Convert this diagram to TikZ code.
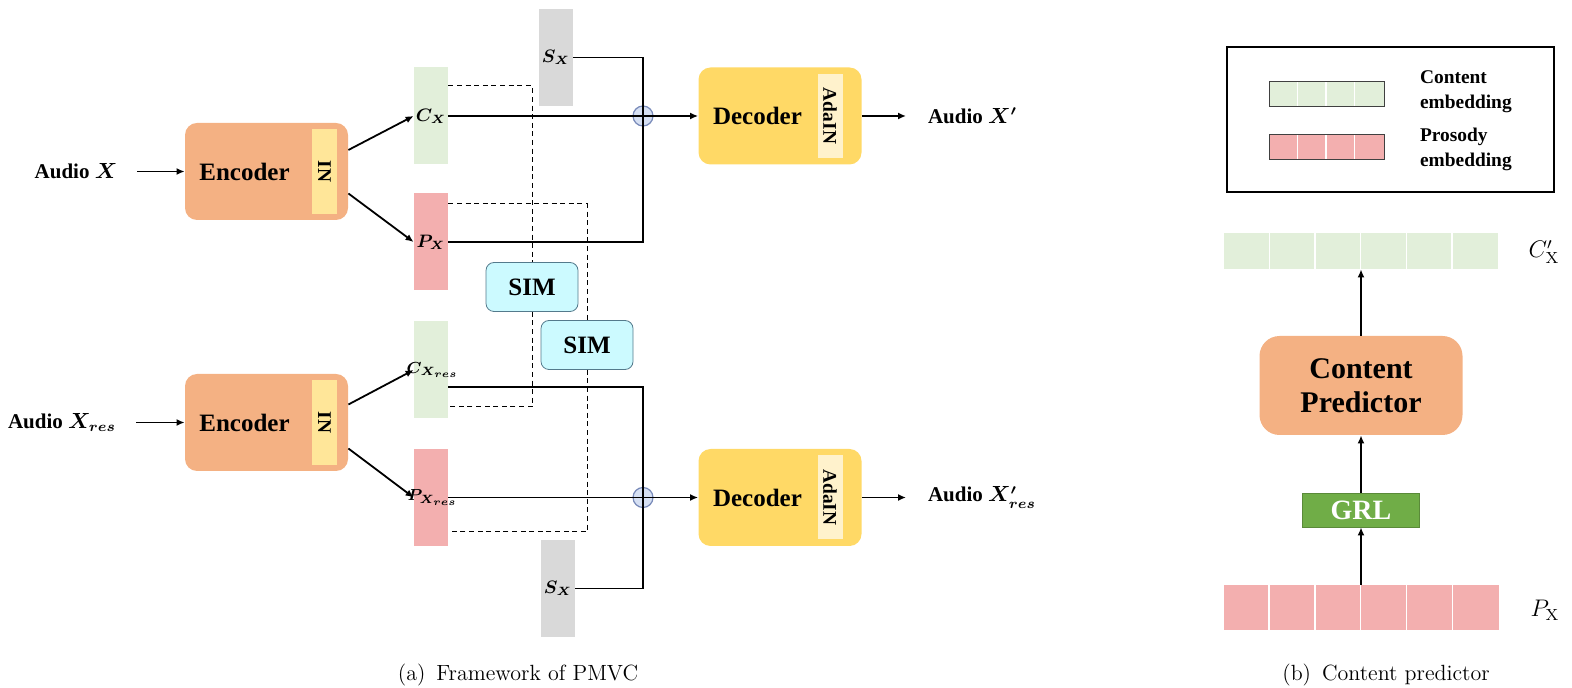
\documentclass[tikz,border=0pt]{standalone}
\usepackage{amsmath}
\usepackage{fontspec}
\usepackage{tikz}
\usetikzlibrary{arrows.meta, positioning}
\newfontfamily\tnr{Liberation Serif}
\definecolor{enccolor}{RGB}{244,177,131}
\definecolor{incolor}{RGB}{255,230,153}
\definecolor{deccolor}{RGB}{255,217,102}
\definecolor{adacolor}{RGB}{255,242,204}
\definecolor{contentcolor}{RGB}{226,239,218}
\definecolor{prosodycolor}{RGB}{243,175,175}
\definecolor{speakercolor}{RGB}{217,217,217}
\definecolor{simcolor}{RGB}{204,250,255}
\definecolor{simborder}{RGB}{84,122,140}
\definecolor{addcolor}{RGB}{214,224,243}
\definecolor{addborder}{RGB}{120,138,185}
\definecolor{grlcolor}{RGB}{112,173,71}

\begin{document}
\begin{tikzpicture}[x=0.5pt, y=-0.5pt, font=\tnr\bfseries]
    \useasboundingbox (0,0) rectangle (1572,688);
    % Define the styles for the blocks and the lines
    \tikzstyle{coder} = [rounded corners=6pt, minimum width=81.5pt, minimum height=48.5pt, inner sep=0pt]
    \tikzstyle{strip} = [minimum width=12.5pt, minimum height=42.5pt, inner sep=0pt, font=\tnr\bfseries\fontsize{9.7}{10}\selectfont]
    \tikzstyle{bigtxt} = [font=\tnr\bfseries\fontsize{12.5}{14}\selectfont]
    \tikzstyle{audio} = [font=\tnr\bfseries\fontsize{10.5}{12}\selectfont]
    \tikzstyle{emb} = [minimum width=17pt, minimum height=48.5pt, inner sep=0pt, font=\fontsize{9}{10}\selectfont]
    \tikzstyle{sim} = [draw=simborder, fill=simcolor, rounded corners=4pt, minimum width=46pt, minimum height=24.5pt, font=\tnr\bfseries\fontsize{12.5}{14}\selectfont]
    \tikzstyle{addop} = [circle, draw=addborder, fill=addcolor, line width=0.6pt, minimum size=10pt, inner sep=0pt]
    \tikzstyle{flow} = [-{Latex[length=4pt,width=3.5pt]}, line width=0.9pt]
    \tikzstyle{link} = [line width=0.9pt]
    \tikzstyle{simlink} = [line width=0.5pt, dash pattern=on 2.5pt off 1.8pt]
    \tikzstyle{caption} = [font=\rmfamily\mdseries\fontsize{11}{13}\selectfont]

    % Inputs and encoders
    \node[audio] (ax) at (76,171.5) {Audio $\boldsymbol{X}$};
    \node[audio] (axr) at (62,422.5) {Audio $\boldsymbol{X_{res}}$};
    \node[coder, fill=enccolor] (enc1) at (266.5,171.5) {};
    \node[coder, fill=enccolor] (enc2) at (266.5,422.5) {};
    \node[strip, fill=incolor, left=5.5pt of enc1.east] (in1) {\rotatebox{-90}{IN}};
    \node[strip, fill=incolor, left=5.5pt of enc2.east] (in2) {\rotatebox{-90}{IN}};
    \node[bigtxt] (enc1txt) at ([xshift=-11pt]enc1.center) {Encoder};
    \node[bigtxt] (enc2txt) at ([xshift=-11pt]enc2.center) {Encoder};
    \draw[flow, shorten <=6.5pt] (ax.east) -- (enc1.west);
    \draw[flow, shorten <=6.5pt] (axr.east) -- (enc2.west);

    % Content, prosody and speaker embeddings
    \node[emb, fill=contentcolor] (cx) at (431,116) {\makebox[0pt]{$\boldsymbol{C_X}$}};
    \node[emb, fill=prosodycolor] (px) at (431,242) {\makebox[0pt]{$\boldsymbol{P_X}$}};
    \node[emb, fill=contentcolor, font=\fontsize{8}{9}\selectfont] (cxr) at (431,370) {\makebox[0pt]{\hspace{1.5pt}$\boldsymbol{C_{X_{res}}}$}};
    \node[emb, fill=prosodycolor, font=\fontsize{8}{9}\selectfont] (pxr) at (431,497.5) {\makebox[0pt]{\hspace{1.5pt}$\boldsymbol{P_{X_{res}}}$}};
    \node[emb, fill=speakercolor] (sx) at (556,57.5) {\makebox[0pt]{$\boldsymbol{S_X}$}};
    \node[emb, fill=speakercolor] (sxr) at (558,588.5) {\makebox[0pt]{$\boldsymbol{S_X}$}};
    \draw[flow] ([yshift=10.75pt]enc1.east) -- (cx.west);
    \draw[flow] ([yshift=-11pt]enc1.east) -- (px.west);
    \draw[flow] ([yshift=9pt]enc2.east) -- (cxr.west);
    \draw[flow] ([yshift=-13pt]enc2.east) -- (pxr.west);

    % Similarity modules
    \node[sim] (sim1) at (532,287) {SIM};
    \node[sim] (sim2) at (587,345) {SIM};
    \draw[simlink] ([yshift=15pt]cx.east) -| (sim1.north);
    \draw[simlink] (sim1.south) |- ([yshift=-18.5pt]cxr.east);
    \draw[simlink] ([yshift=19pt]px.east) -| (sim2.north);
    \draw[simlink] (sim2.south) |- ([yshift=-17.25pt]pxr.east);

    % Decoders
    \node[coder, fill=deccolor] (dec1) at (780,116) {};
    \node[coder, fill=deccolor] (dec2) at (780,497.5) {};
    \node[strip, fill=adacolor, minimum height=42pt, left=9.5pt of dec1.east] (ada1) {\rotatebox{-90}{AdaIN}};
    \node[strip, fill=adacolor, minimum height=42pt, left=9.5pt of dec2.east] (ada2) {\rotatebox{-90}{AdaIN}};
    \node[bigtxt] (dec1txt) at ([xshift=-11.25pt]dec1.center) {Decoder};
    \node[bigtxt] (dec2txt) at ([xshift=-11.25pt]dec2.center) {Decoder};

    % Fusion of the embeddings
    \node[addop] (add1) at (643,116) {};
    \node[addop] (add2) at (643,497.5) {};
    \draw[flow] (cx.east) -- (dec1.west);
    \draw[link] (sx.east) -| (add1.center) |- (px.east);
    \draw[flow] (pxr.east) -- (dec2.west);
    \draw[link] (sxr.east) -| (add2.center) |- ([yshift=-8.5pt]cxr.east);

    % Outputs
    \node[audio, anchor=west] (out1) at (921,116) {Audio $\boldsymbol{X'}$};
    \node[audio, anchor=west] (out2) at (921,497.5) {Audio $\boldsymbol{X'_{res}}$};
    \draw[flow, shorten >=7.5pt] (dec1.east) -- (out1.west);
    \draw[flow, shorten >=7.5pt] (dec2.east) -- (out2.west);
    \node[caption] (capa) at (518,675) {(a)\enspace Framework of PMVC};

    % Legend of the embeddings
    \draw[line width=0.6pt] (1227,47) rectangle (1554,192);
    \node[draw=black!75, line width=0.5pt, fill=contentcolor, minimum width=57.5pt, minimum height=12.5pt, inner sep=0pt] (cleg) at (1326.5,94.5) {};
    \node[draw=black!75, line width=0.5pt, fill=prosodycolor, minimum width=57.5pt, minimum height=12.5pt, inner sep=0pt] (pleg) at (1326.5,147) {};
    \foreach \i in {1,2,3} {
        \draw[white, line width=0.7pt] ([xshift=\i*14.375pt, yshift=-0.5pt]cleg.north west) -- ([xshift=\i*14.375pt, yshift=0.5pt]cleg.south west);
        \draw[white, line width=0.7pt] ([xshift=\i*14.375pt, yshift=-0.5pt]pleg.north west) -- ([xshift=\i*14.375pt, yshift=0.5pt]pleg.south west);
    }
    \node[anchor=west, align=left, font=\tnr\bfseries\fontsize{9.7}{12.5}\selectfont] (ctxt) at (1413,91.5) {Content\\embedding};
    \node[anchor=west, align=left, font=\tnr\bfseries\fontsize{9.7}{12.5}\selectfont] (ptxt) at (1413,149.5) {Prosody\\embedding};

    % Content predictor with gradient reversal
    \node[fill=contentcolor, minimum width=137pt, minimum height=18pt, inner sep=0pt] (cbar) at (1361,251) {};
    \node[fill=prosodycolor, minimum width=137.5pt, minimum height=22.5pt, inner sep=0pt] (pbar) at (1361,607.5) {};
    \foreach \i in {1,...,5} {
        \draw[white, line width=0.7pt] ([xshift=\i*22.83pt]cbar.north west) -- ([xshift=\i*22.83pt]cbar.south west);
        \draw[white, line width=0.7pt] ([xshift=\i*22.92pt]pbar.north west) -- ([xshift=\i*22.92pt]pbar.south west);
    }
    \node[fill=enccolor, rounded corners=10pt, minimum width=101.5pt, minimum height=49.5pt, align=center, font=\tnr\bfseries\fontsize{15}{17}\selectfont] (pred) at (1361,385.5) {Content\\Predictor};
    \node[fill=grlcolor, draw=grlcolor!80!black, line width=0.4pt, minimum width=58.5pt, minimum height=17pt, inner sep=0pt, text=white, font=\tnr\bfseries\fontsize{14}{15}\selectfont] (grl) at (1361,510) {GRL};
    \draw[flow] (pbar.north) -- (grl.south);
    \draw[flow] (grl.north) -- (pred.south);
    \draw[flow] (pred.north) -- (cbar.south);
    \node[font=\fontsize{11.5}{13}\selectfont] (clab) at (1544,252) {$C'_{\mathrm{X}}$};
    \node[font=\fontsize{11.5}{13}\selectfont] (plab) at (1545,610) {$P_{\mathrm{X}}$};
    \node[caption] (capb) at (1386,675) {(b)\enspace Content predictor};
\end{tikzpicture}
\end{document}
